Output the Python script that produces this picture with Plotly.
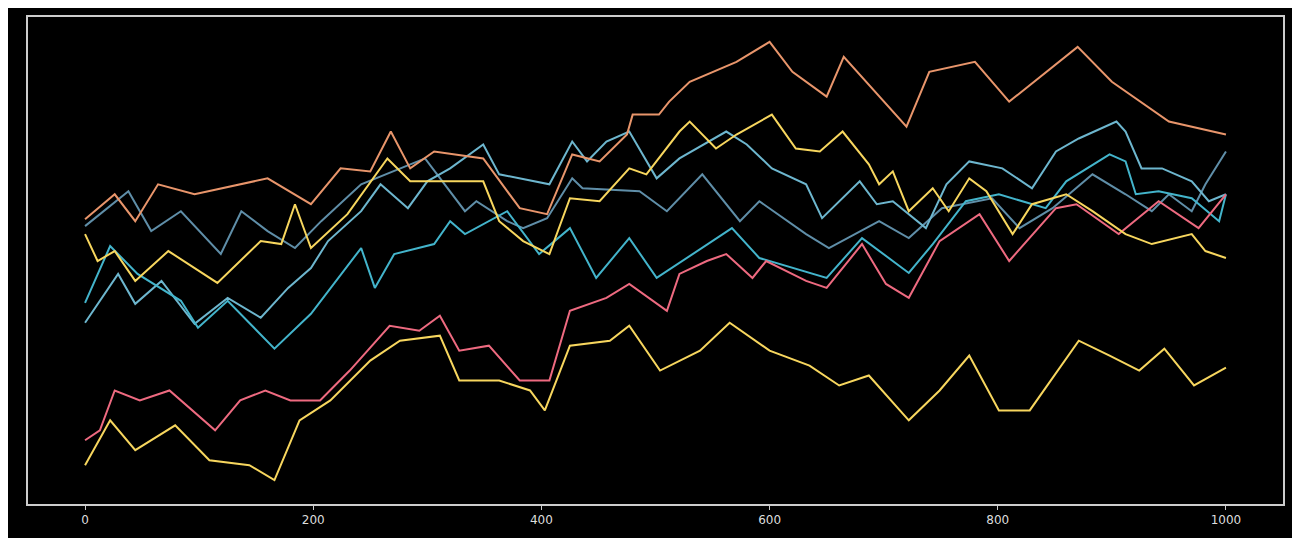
import plotly.graph_objects as go

orange_x = [0,26,44,64,96,160,198,224,250,268,285,306,349,381,405,427,451,475,480,503,512,530,571,600,620,650,665,700,720,740,780,810,870,900,950,1000]
orange_y = [286,311,284,321,311,327,301,337,334,374,337,354,347,297,291,351,344,371,391,391,404,424,444,464,434,409,449,404,379,434,444,404,459,424,384,371]

yellow1_x = [0,11,26,44,73,116,154,172,184,198,230,265,285,311,349,363,384,407,425,451,477,492,521,530,553,571,602,623,644,664,687,696,708,722,743,757,775,790,813,830,860,883,912,935,970,982,1000]
yellow1_y = [271,244,254,224,254,222,264,261,301,257,291,347,324,324,324,284,264,251,307,304,337,331,374,384,357,371,391,357,354,374,341,321,334,294,317,294,327,314,271,301,311,294,271,261,271,254,247]

cyan_x = [0,22,46,84,99,125,166,198,242,254,271,306,320,333,370,398,425,448,477,501,567,591,650,681,722,743,772,801,842,860,898,912,921,941,970,994,1000]
cyan_y = [202,259,231,204,177,204,156,191,257,217,251,261,284,271,294,251,277,227,267,227,277,247,227,267,232,261,304,311,297,324,351,344,311,314,307,284,311]

light_x = [0,29,44,67,96,125,154,178,198,213,242,259,283,300,320,349,363,407,427,440,457,477,501,521,562,580,602,632,646,679,694,708,737,755,775,804,830,851,871,904,912,926,944,970,985,1000]
light_y = [182,231,201,224,181,207,187,217,237,264,294,321,297,324,337,361,331,321,364,344,364,374,327,347,374,361,337,321,287,324,301,304,277,321,344,337,317,354,367,384,374,337,337,324,304,311]

steel_x = [0,38,58,84,119,137,160,184,207,242,298,333,343,370,384,405,427,436,486,510,541,574,591,632,652,696,722,751,795,819,848,883,912,935,950,970,982,1000]
steel_y = [279,314,274,294,251,294,274,257,284,321,347,294,304,284,277,287,327,317,314,294,331,284,304,271,257,284,267,297,307,277,297,331,311,294,311,294,321,354]

pink_x = [0,13,26,48,74,114,136,158,180,206,232,267,293,311,328,354,381,407,425,457,477,510,521,545,562,585,597,632,650,681,702,722,749,784,810,851,869,906,941,976,1000]
pink_y = [64,74,114,104,114,74,104,114,104,104,134,179,174,189,154,159,124,124,194,207,221,194,231,244,251,227,244,224,217,261,221,207,264,291,244,297,301,271,304,277,311]

yellow2_x = [0,22,44,79,109,144,166,188,215,250,276,311,328,363,390,403,425,460,477,504,539,565,600,635,661,687,722,749,775,801,828,871,898,924,946,972,1000]
yellow2_y = [39,84,54,79,44,39,24,84,104,144,164,169,124,124,114,94,159,164,179,134,154,182,154,139,119,129,84,114,149,94,94,164,149,134,156,119,137]

series = [
    (steel_x, steel_y, "#5F8EA8"),
    (light_x, light_y, "#6DB6CE"),
    (cyan_x, cyan_y, "#43B4CB"),
    (pink_x, pink_y, "#EE6A80"),
    (yellow2_x, yellow2_y, "#F7D65E"),
    (yellow1_x, yellow1_y, "#F7D65E"),
    (orange_x, orange_y, "#E8956B"),
]

fig = go.Figure()
for xs, ys, c in series:
    fig.add_trace(go.Scatter(x=xs, y=ys, mode="lines", line=dict(color=c, width=2), showlegend=False))

fig.update_layout(
    width=1284, height=530, paper_bgcolor="black", plot_bgcolor="black",
    margin=dict(l=20, r=8, t=7, b=34),
    font=dict(family="DejaVu Sans", color="#DDDDDD", size=12),
)
fig.update_xaxes(range=[-50, 1050], tickvals=[0, 200, 400, 600, 800, 1000], showgrid=False, zeroline=False,
                 showline=True, linecolor="#CCCCCC", linewidth=1.5, mirror=True, ticks="outside",
                 tickcolor="#CCCCCC", ticklen=4)
fig.update_yaxes(range=[0, 489], showticklabels=False, showgrid=False, zeroline=False,
                 showline=True, linecolor="#CCCCCC", linewidth=1.5, mirror=True)
fig.write_html("out.html")
